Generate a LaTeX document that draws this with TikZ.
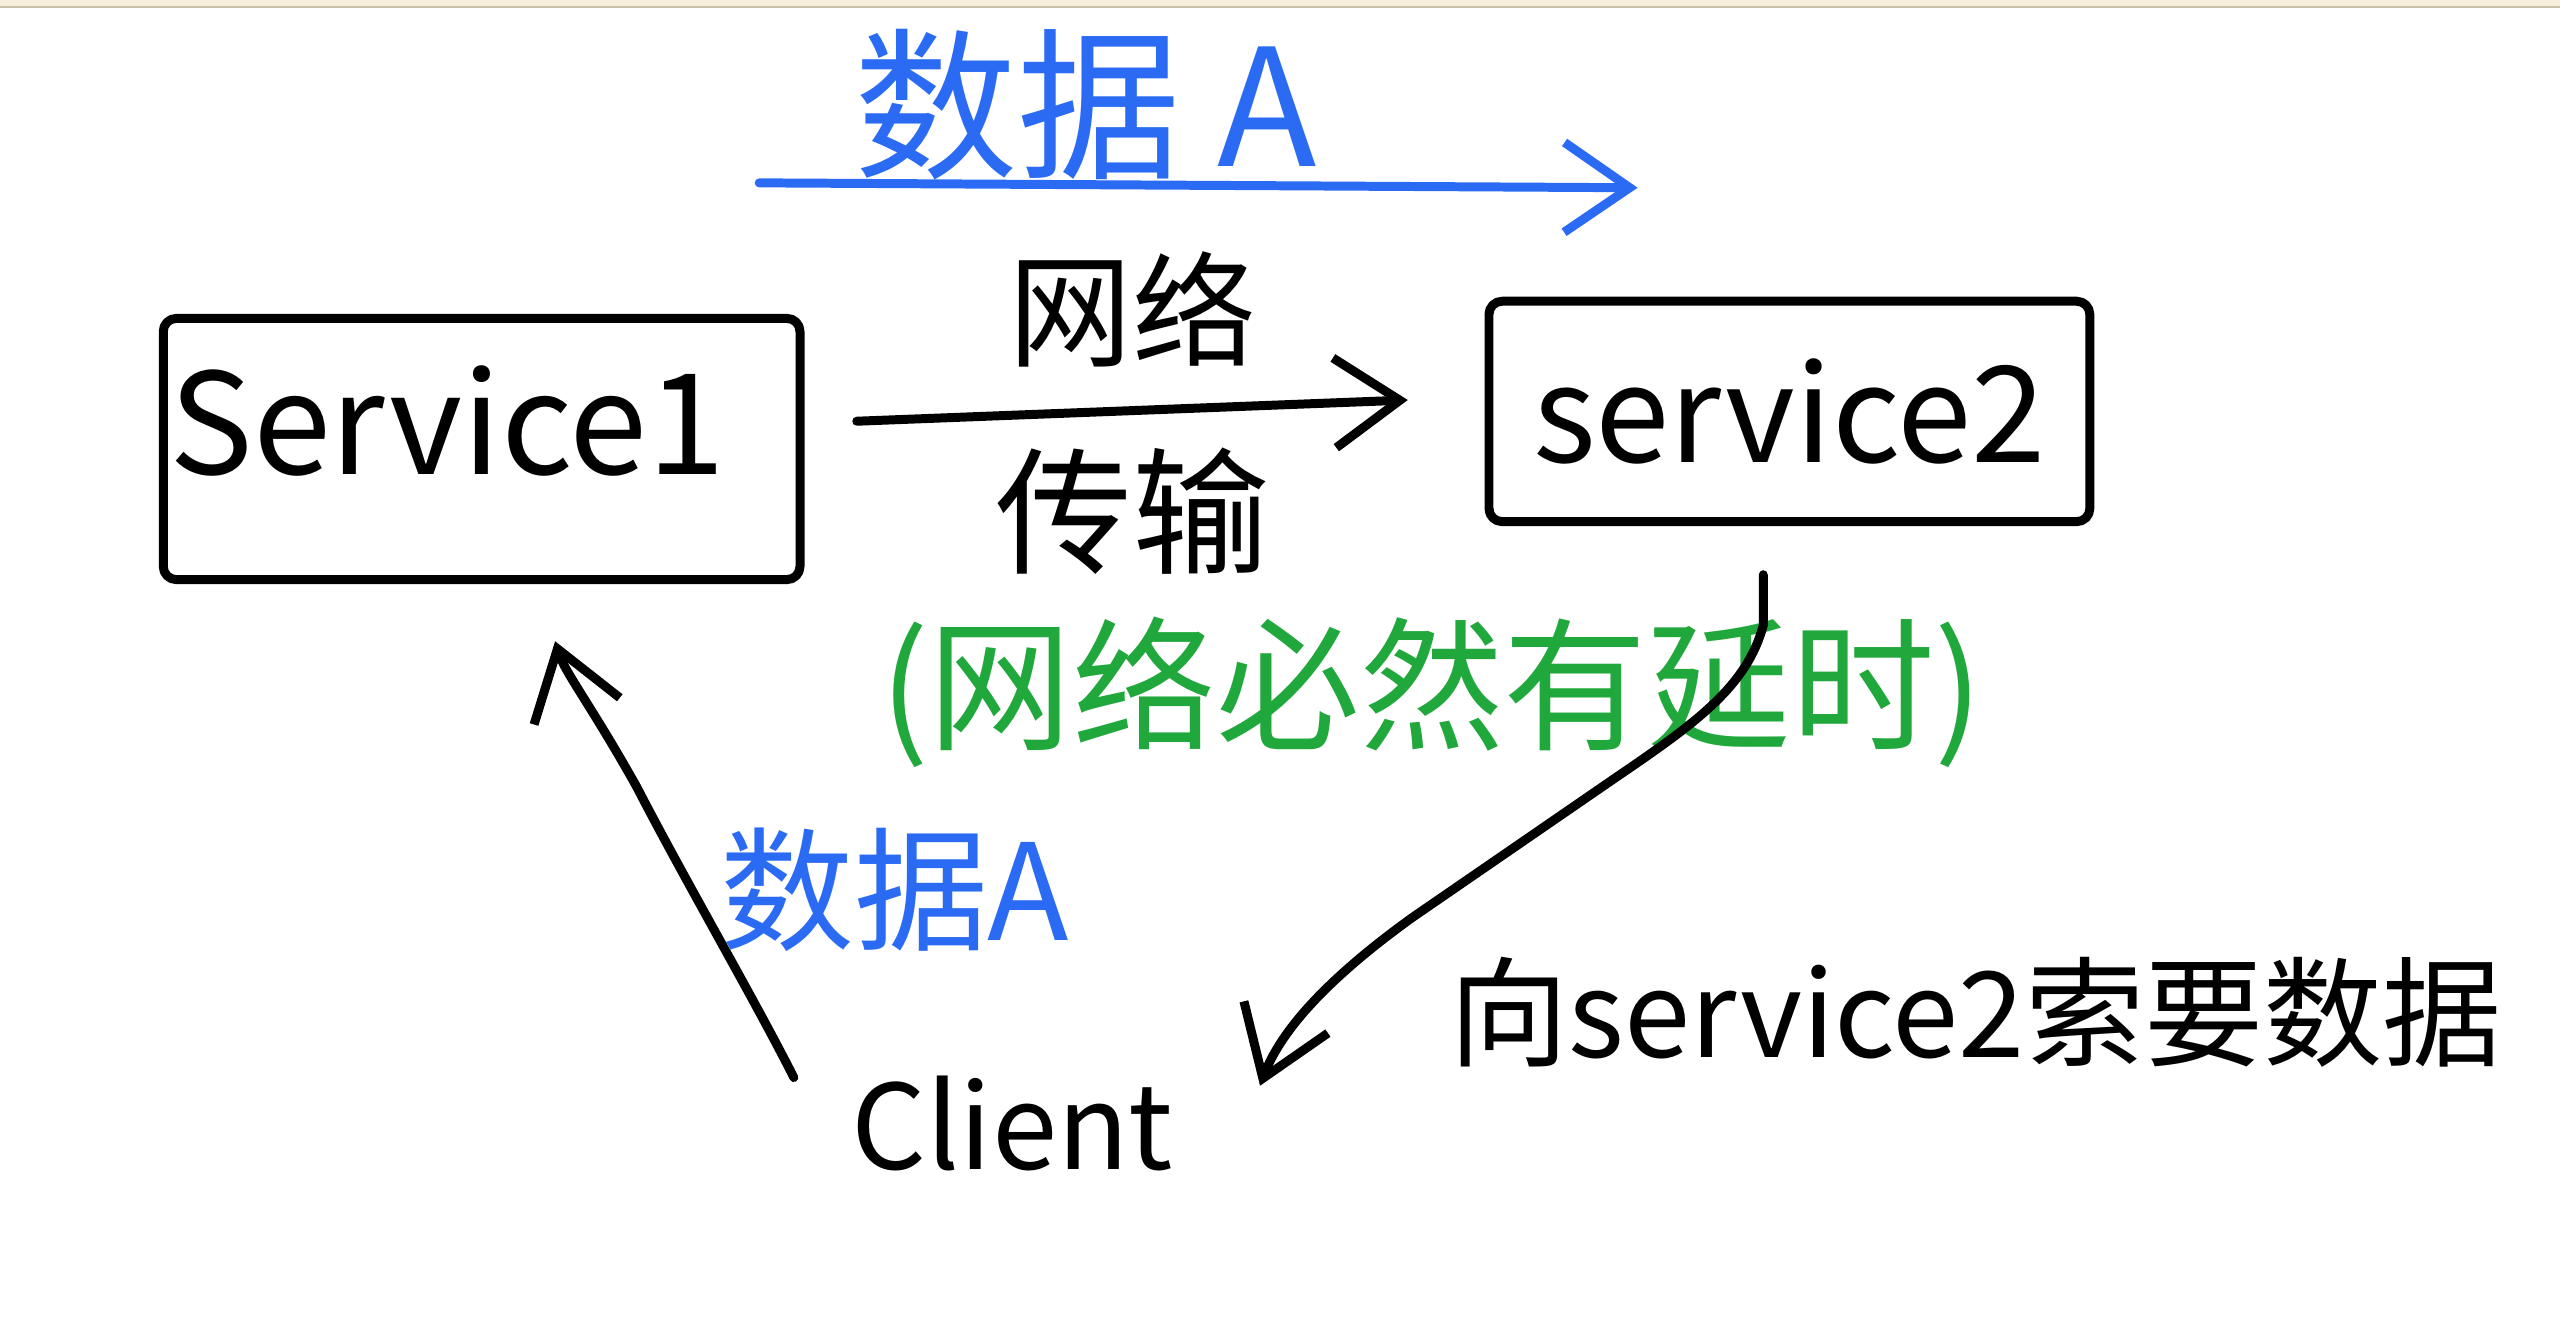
\documentclass[tikz,border=0pt]{standalone}
\usepackage{fontspec}
\setmainfont{Noto Sans CJK SC}
\usetikzlibrary{arrows.meta}
\definecolor{hblue}{HTML}{2B6BF3}
\definecolor{hgreen}{HTML}{21A83C}
\definecolor{barbeige}{HTML}{F8F0DC}
\definecolor{barline}{HTML}{C9C1AA}
\begin{document}
\begin{tikzpicture}[x=1pt,y=-1pt,
  pen/.style={line width=5.5pt,line cap=round,line join=round},
  boxnode/.style={draw,pen,rounded corners=8pt,inner sep=0pt},
  hand/.style={inner sep=0pt,font=\fontsize{#1}{#1}\selectfont},
  tip/.style={-{Straight Barb[length=40pt,width=55pt,line width=5.5pt]}}
]
\useasboundingbox (0,0) rectangle (1568,811);
\fill[white] (0,0) rectangle (1568,811);
\fill[barbeige] (0,0) rectangle (1568,3.5);
\fill[barline] (0,3.5) rectangle (1568,5);

% top blue label and arrow
\node[hand=100,text=hblue] (dataTop) at (665,64) {数据 A};
\coordinate (topStart) at (465,112);
\coordinate (topEnd) at (1003,115);
\draw[pen,hblue,tip] (topStart) -- (topEnd);

% boxes
\node[boxnode,minimum width=390pt,minimum height=160pt] (s1) at (295,275) {};
\node[hand=86] (s1text) at (274,258) {Service1};
\node[boxnode,minimum width=368pt,minimum height=135pt,hand=82] (s2) at (1096,252) {service2};

% network arrow
\draw[pen,tip] ([xshift=32pt,yshift=17pt]s1.east) -- node[above=24pt,hand=76] (net) {网络}
  node[below=20pt,hand=84] (trans) {传输} ([xshift=-47pt,yshift=7pt]s2.west);

% green note
\node[hand=88,text=hgreen] (note) at (877,424) {(网络必然有延时)};

% client
\node[hand=72] (client) at (620,688) {Client};

% arrow service2 -> client
\coordinate (s2out) at (1080,352);
\draw[pen,tip] (s2out) -- (1080,383) .. controls (1070,420) and (1040,442) .. (990,476)
  -- (865,562) .. controls (815,598) and (785,630) .. ([xshift=53pt,yshift=23pt]client.east);

% request label
\node[hand=73] (req) at (1210,620) {向service2索要数据};

% arrow client -> service1
\draw[pen,tip] ([xshift=-35pt,yshift=28pt]client.west) .. controls (462,612) and (420,540) .. (390,482)
  .. controls (362,432) and (346,412) .. ([xshift=45pt,yshift=-35pt]s1.south);

\node[hand=82,text=hblue] (dataLow) at (548,545) {数据A};
\end{tikzpicture}
\end{document}
